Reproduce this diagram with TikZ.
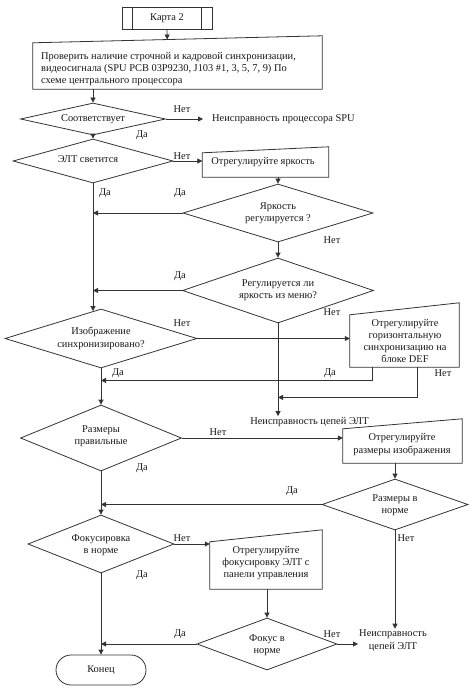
\documentclass[tikz,border=0pt]{standalone}
\usepackage{fontspec}
\setmainfont{Liberation Serif}
\usetikzlibrary{shapes.geometric,arrows.meta,calc}
\begin{document}
\begin{tikzpicture}[x=1pt,y=-1pt,
  every node/.style={font=\fontsize{10.4pt}{12.3pt}\selectfont, text=black!90},
  line/.style={draw=black!80, line width=0.8pt},
  arr/.style={line, -{Triangle[length=5pt,width=5pt]}},
  dec/.style n args={2}{diamond, draw=black!80, line width=0.8pt, inner sep=0pt, minimum width=#1, minimum height=#2},
  boxn/.style n args={2}{rectangle, inner sep=0pt, minimum width=#1, minimum height=#2},
  txt/.style={inner sep=1pt, align=center},
  lbl/.style={inner sep=1pt},
]
\useasboundingbox (0,0) rectangle (474,690);
\fill[white] (0,0) rectangle (474,690);

% start: predefined process
\node[draw=black!80, line width=0.8pt, minimum width=90pt, minimum height=22pt, inner sep=0pt] (s) at (167,18) {Карта 2};
\draw[line] ($(s.north west)+(11,0)$) -- ($(s.south west)+(11,0)$);
\draw[line] ($(s.north east)+(-11,0)$) -- ($(s.south east)+(-11,0)$);

% box 1
\node[boxn={289pt}{46pt}] (b1) at (177.5,66) {};
\coordinate (b1ne) at ([yshift=7pt]b1.north east);
\draw[line] (b1.south west) -- (b1.north west) -- (b1ne) -- (b1.south east) -- cycle;
\node[txt, anchor=west, align=left] (t1) at (40,69) {Проверить наличие строчной и кадровой синхронизации,\\видеосигнала (SPU PCB 03P9230, J103 \#1, 3, 5, 7, 9) По\\схеме центрального процессора};

% decision 1
\node[dec={145pt}{32pt}] (d1) at (93,119) {};
\node[txt] (td1) at (93,119) {Соответствует};
\node[lbl, anchor=west] (e1) at (211,119) {Неисправность процессора SPU};

% decision 2
\node[dec={160pt}{44pt}] (d2) at (93,161) {};
\node[txt] (td2) at (88,159) {ЭЛТ светится};

% box 2
\node[boxn={126pt}{24pt}] (b2) at (265.5,165) {};
\draw[line] (b2.south west) -- (b2.north west) -- ([yshift=6pt]b2.north east) -- (b2.south east) -- cycle;
\node[txt] (tb2) at (263,162) {Отрегулируйте яркость};

% decision 3
\node[dec={190pt}{58pt}] (d3) at (278,213) {};
\node[txt] (td3) at (278,213) {Яркость\\регулируется ?};

% decision 4
\node[dec={191pt}{65pt}] (d4) at (278,290.5) {};
\node[txt] (td4) at (278,290) {Регулируется ли\\яркость из меню?};

% decision 5
\node[dec={192pt}{59pt}] (d5) at (101,338.5) {};
\node[txt] (td5) at (101,338.5) {Изображение\\синхронизировано?};

% box 3
\node[boxn={109pt}{52pt}] (b3) at (404.5,341) {};
\draw[line] (b3.south west) -- (b3.north west) -- ([yshift=12pt]b3.north east) -- (b3.south east) -- cycle;
\node[txt] (tb3) at (405,341) {Отрегулируйте\\горизонтальную\\синхронизацию на\\блоке DEF};

% error 2
\node[lbl] (e2) at (309.5,422) {Неисправность цепей ЭЛТ};

% decision 6
\node[dec={161pt}{66pt}] (d6) at (101,438) {};
\node[txt] (td6) at (101,436.5) {Размеры\\правильные};

% box 4
\node[boxn={119pt}{34pt}] (b4) at (402.5,446) {};
\draw[line] (b4.south west) -- (b4.north west) -- ([yshift=10pt]b4.north east) -- (b4.south east) -- cycle;
\node[txt] (tb4) at (402,444.5) {Отрегулируйте\\размеры изображения};

% decision 7
\node[dec={146pt}{51pt}] (d7) at (395,504.5) {};
\node[txt] (td7) at (395,505.5) {Размеры в\\норме};

% error 3
\node[lbl, align=center] (e3) at (393,640.5) {Неисправность\\цепей ЭЛТ};

% decision 8
\node[dec={146pt}{58pt}] (d8) at (101,544) {};
\node[txt] (td8) at (101,545) {Фокусировка\\в норме};

% box 5
\node[boxn={112pt}{47pt}] (b5) at (266,565.5) {};
\draw[line] (b5.south west) -- (b5.north west) -- ([yshift=12pt]b5.north east) -- (b5.south east) -- cycle;
\node[txt] (tb5) at (266,563) {Отрегулируйте\\фокусировку ЭЛТ с\\панели управления};

% decision 9
\node[dec={140pt}{52pt}] (d9) at (267,644) {};
\node[txt] (td9) at (267,645.5) {Фокус в\\норме};

% end
\node[draw=black!80, line width=0.8pt, rounded corners=15pt, minimum width=90pt, minimum height=30pt, inner sep=0pt] (end) at (101,670) {Конец};

% labels
\node[lbl] (l1) at (182,109) {Нет};
\node[lbl] (l2) at (142,135) {Да};
\node[lbl] (l3) at (182,156) {Нет};
\node[lbl] (l4) at (105,193) {Да};
\node[lbl] (l5) at (180,193) {Да};
\node[lbl] (l6) at (332,240) {Нет};
\node[lbl] (l7) at (180,276) {Да};
\node[lbl] (l8) at (332,312) {Нет};
\node[lbl] (l9) at (182,323) {Нет};
\node[lbl] (l10) at (118,373) {Да};
\node[lbl] (l11) at (330,373) {Да};
\node[lbl] (l12) at (443,373) {Нет};
\node[lbl] (l13) at (218,432) {Нет};
\node[lbl] (l14) at (142,468) {Да};
\node[lbl] (l15) at (292,491) {Да};
\node[lbl] (l16) at (406,538) {Нет};
\node[lbl] (l17) at (182,538) {Нет};
\node[lbl] (l18) at (142,575) {Да};
\node[lbl] (l19) at (180,634) {Да};
\node[lbl] (l20) at (332,634) {Нет};

% connectors
\draw[arr] (s.south) -- ($(b1.north west)!(s.south)!(b1ne)$);
\draw[arr] (d1.north |- b1.south) -- (d1.north);
\draw[arr] (d1.east) -- ([xshift=-8pt]e1.west |- d1.east);
\draw[arr] (d1.south) -- (d2.north);
\draw[arr] (d2.east) -- (d2.east -| b2.west);
\draw[arr] (d3.north |- b2.south) -- (d3.north);
\draw[arr] (d3.west) -- (d3.west -| d2.south);
\draw[arr] (d3.south) -- (d4.north);
\draw[arr] (d4.west) -- (d4.west -| d2.south);
\coordinate (j5) at ($(d5.north)!0.083!(d5.west)$);
\draw[arr] (d2.south) -- (d2.south |- j5);
\draw[arr] (d5.east) -- (d5.east -| b3.west);
\coordinate (b3a) at ($(b3.south west)+(23,0)$);
\coordinate (b3b) at ($(b3.south west)+(68,0)$);
\draw[arr] (b3a) |- ($(d5.south)+(0,12)$);
\draw[arr] (b3b) |- ($(d4.south)+(0,74)$);
\draw[arr] (d4.south) -- (d4.south |- e2.north);
\draw[arr] (d5.south) -- (d6.north);
\draw[arr] (d6.east) -- (d6.east -| b4.west);
\draw[arr] (d7.north |- b4.south) -- (d7.north);
\draw[arr] (d7.west) -- (d7.west -| d6.south);
\draw[arr] (d7.south) -- (d7.south |- e3.north);
\draw[arr] (d6.south) -- (d8.north);
\draw[arr] (d8.east) -- (d8.east -| b5.west);
\draw[arr] (d9.north |- b5.south) -- (d9.north);
\draw[arr] (d9.west) -- (d9.west -| d8.south);
\draw[arr] (d9.east) -- (d9.east -| e3.west);
\draw[arr] (d8.south) -- (end.north);
\end{tikzpicture}
\end{document}
